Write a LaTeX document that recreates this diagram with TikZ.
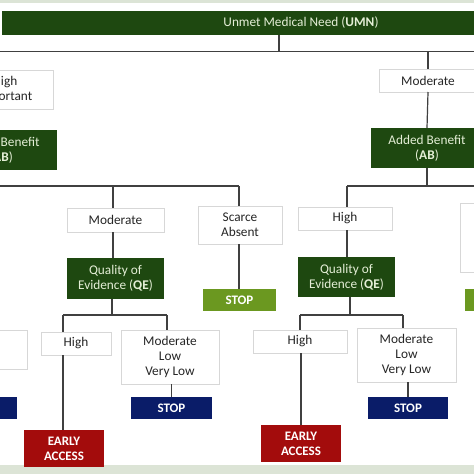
\documentclass[tikz,border=0pt]{standalone}
\usepackage{fontspec}
\setmainfont{Carlito}
\usetikzlibrary{calc}
\definecolor{dgreen}{RGB}{30,72,16}
\definecolor{lgreen}{RGB}{107,152,32}
\definecolor{navy}{RGB}{10,28,104}
\definecolor{ered}{RGB}{163,12,12}
\definecolor{band}{RGB}{220,228,214}
\definecolor{boxgray}{RGB}{215,215,215}
\definecolor{linegray}{RGB}{64,64,64}
\definecolor{ltext}{RGB}{228,238,214}
\begin{document}
\begin{tikzpicture}[x=1pt,y=-1pt,
  base/.style={inner sep=0pt, outer sep=0pt, align=center, font=\fontsize{13.3}{15}\selectfont},
  wbox/.style={base, draw=boxgray, fill=white, line width=0.9pt, text=black!85},
  gbox/.style={base, fill=dgreen, text=ltext},
  stopg/.style={base, fill=lgreen, text=white, font=\fontsize{13}{15}\selectfont\bfseries},
  stopn/.style={base, fill=navy, text=white, font=\fontsize{13}{15}\selectfont\bfseries},
  eabox/.style={base, fill=ered, text=white, font=\fontsize{13}{15}\selectfont\bfseries},
  conn/.style={draw=linegray, line width=1.2pt}]
\useasboundingbox (0,0) rectangle (474,474);
\clip (0,0) rectangle (474,474);
\fill[white] (0,0) rectangle (474,474);
\fill[band] (0,0) rectangle (474,3);
\fill[band] (0,465) rectangle (474,474);

% top
\node[gbox, minimum width=598pt, minimum height=24pt] (umn) at (301,23) {Unmet Medical Need ({\bfseries UMN})};
\node[wbox, minimum width=96pt, minimum height=39pt] (highL) at (5,89.5) {High\\Important};
\node[wbox, minimum width=98pt, minimum height=23pt] (modR) at (428,80.5) {Moderate};
\node[gbox, minimum width=112pt, minimum height=40pt] (abL) at (1,150) {Added Benefit\\({\bfseries AB})};
\node[gbox, minimum width=112pt, minimum height=40pt] (abR) at (427,148) {Added Benefit\\({\bfseries AB})};

% left subtree
\node[wbox, minimum width=97pt, minimum height=24pt] (modL) at (115.5,220) {Moderate};
\node[gbox, minimum width=97pt, minimum height=41pt] (qeL) at (115.5,278.5) {Quality of\\Evidence ({\bfseries QE})};
\node[wbox, minimum width=84pt, minimum height=38pt] (scarce) at (240,225) {Scarce\\Absent};
\node[stopg, minimum width=73pt, minimum height=22pt] (stopG1) at (239.5,300) {STOP};
\node[wbox, minimum width=70pt, minimum height=23pt] (highL2) at (76,343.5) {High};
\node[eabox, minimum width=80pt, minimum height=37pt] (eaL) at (64,448.5) {EARLY\\ACCESS};
\node[wbox, minimum width=98pt, minimum height=54pt] (mlvL) at (170,357) {Moderate\\Low\\Very Low};
\node[stopn, minimum width=81pt, minimum height=22pt] (stopNL) at (171.5,408) {STOP};
\node[wbox, minimum width=98pt, minimum height=39pt] (lowL) at (-22,349.5) {};
\node[base, text=black!85] (lowLt) at (-26,349.5) {Low\\Very Low};
\node[stopn, minimum width=81pt, minimum height=22pt] (stopNL0) at (-23.5,408) {STOP};

% right subtree
\node[wbox, minimum width=94pt, minimum height=23pt] (highR1) at (345,218.5) {High};
\node[gbox, minimum width=97pt, minimum height=40pt] (qeR) at (346.5,277) {Quality of\\Evidence ({\bfseries QE})};
\node[wbox, minimum width=84pt, minimum height=69pt] (farR) at (502,237.5) {};
\node[stopg, minimum width=73pt, minimum height=22pt] (stopG2) at (501.5,300) {STOP};
\node[wbox, minimum width=94pt, minimum height=23pt] (highR2) at (300,341.5) {High};
\node[eabox, minimum width=80pt, minimum height=37pt] (eaR) at (301,443.5) {EARLY\\ACCESS};
\node[wbox, minimum width=99pt, minimum height=54pt] (mlvR) at (406.5,355) {Moderate\\Low\\Very Low};
\node[stopn, minimum width=80pt, minimum height=22pt] (stopNR) at (408,408) {STOP};

% bus coordinates
\coordinate (b0l) at (0,51.5);
\coordinate (b0r) at (474,51.5);
\coordinate (u0) at (279,51.5);
\coordinate (b1l) at (0,186);
\coordinate (b1a) at (113,186);
\coordinate (b1b) at (239,186);
\coordinate (b2a) at (347,186);
\coordinate (b2c) at (427,186);
\coordinate (b2r) at (474,186);
\coordinate (b3a) at (63,315);
\coordinate (b3m) at (112,315);
\coordinate (b3b) at (167,315);
\coordinate (b4a) at (300,315);
\coordinate (b4m) at (350,315);
\coordinate (b4b) at (403,315);

% connectors
\draw[conn] (u0 |- umn.south) -- (u0);
\draw[conn] (b0l) -- (b0r);
\draw[conn] (modR.north |- b0l) -- (modR.north);
\draw[conn] (modR.south) -- (abR.north);
\draw[conn] (b2c |- abR.south) -- (b2c);
\draw[conn] (b2a) -- (b2r);
\draw[conn] (b2a) -- (b2a |- highR1.north);
\draw[conn] (b2a |- highR1.south) -- (b2a |- qeR.north);
\draw[conn] (b4m |- qeR.south) -- (b4m);
\draw[conn] (b4a) -- (b4b);
\draw[conn] (b4a) -- (b4a |- highR2.north);
\draw[conn] (b4b) -- (b4b |- mlvR.north);
\draw[conn] (eaR.north |- highR2.south) -- (eaR.north);
\draw[conn] (stopNR.north |- mlvR.south) -- (stopNR.north);

\draw[conn] (b1l) -- (b1b);
\draw[conn] (b1a) -- (b1a |- modL.north);
\draw[conn] (b1b) -- (b1b |- scarce.north);
\draw[conn] (b1a |- modL.south) -- (b1a |- qeL.north);
\draw[conn] (b1b |- scarce.south) -- (b1b |- stopG1.north);
\draw[conn] (b3m |- qeL.south) -- (b3m);
\draw[conn] (b3a) -- (b3b);
\draw[conn] (b3a) -- (b3a |- highL2.north);
\draw[conn] (b3b) -- (b3b |- mlvL.north);
\draw[conn] (b3a |- highL2.south) -- (b3a |- eaL.north);
\draw[conn] (stopNL.north |- mlvL.south) -- (stopNL.north);
\end{tikzpicture}
\end{document}
